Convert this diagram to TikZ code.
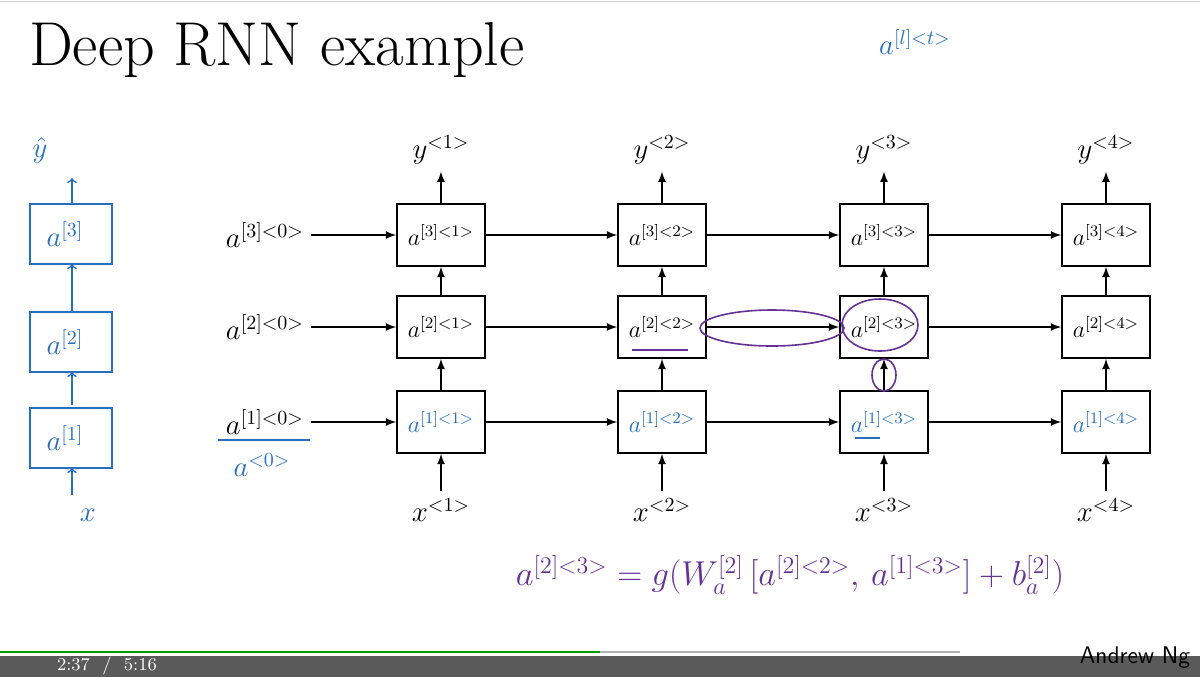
\documentclass[tikz,border=0pt]{standalone}
\usetikzlibrary{positioning}
\definecolor{pen}{RGB}{40,110,190}
\definecolor{ink}{RGB}{100,50,150}
\definecolor{bar}{RGB}{90,90,90}
\tikzset{
  cell/.style={draw, thick, minimum width=44pt, minimum height=31pt, inner sep=0pt, font=\large},
  flow/.style={->, >=latex, thick},
  hand/.style={text=pen, font=\Large},
}
\begin{document}
\begin{tikzpicture}[x=0.5pt, y=-0.5pt, font=\Large]
  \useasboundingbox (0,0) rectangle (1200,677);
  \draw[gray!40] (0,1) -- (1200,1);
  \node[anchor=west, font=\fontsize{31}{36}\selectfont] (title) at (22,50) {Deep RNN example};
  \node[hand] (hint) at (915,42) {$a^{[l]<t>}$};

  % grid of cells
  \foreach \c/\x in {1/441,2/662,3/884,4/1106}{
    \node[cell] (c3\c) at (\x,235) {$a^{[3]<\c>}$};
    \node[cell] (c2\c) at (\x,327) {$a^{[2]<\c>}$};
    \node[cell] (c1\c) at (\x,422) {};
    \node[hand, font=\large] at (c1\c) {$a^{[1]<\c>}$};
    \node (y\c) at (\x,150) {$y^{<\c>}$};
    \node (x\c) at (\x,510) {$x^{<\c>}$};
    \draw[flow] (x\c) -- (c1\c);
    \draw[flow] (c1\c) -- (c2\c);
    \draw[flow] (c2\c) -- (c3\c);
    \draw[flow] (c3\c) -- (y\c);
  }
  \foreach \l/\y in {3/235,2/327,1/422}{
    \node (s\l) at (265,\y) {$a^{[\l]<0>}$};
    \draw[flow] (s\l) -- (c\l1);
    \draw[flow] (c\l1) -- (c\l2);
    \draw[flow] (c\l2) -- (c\l3);
    \draw[flow] (c\l3) -- (c\l4);
  }
  \draw[pen, thick] (218,440) -- (310,440);
  \node[hand] (a0) at (262,465) {$a^{<0>}$};

  % annotations
  \draw[ink, thick] (772,328) ellipse (36pt and 9pt);
  \draw[ink, thick] (880,325) ellipse (19pt and 13pt);
  \draw[ink, thick] (884,375) ellipse (6pt and 8pt);
  \draw[ink, thick] (632,350) -- (688,350);
  \draw[pen, thick] (855,438) -- (880,438);
  \node[ink, font=\LARGE] (eq) at (790,575)
    {$a^{[2]<3>} = g\big(W_a^{[2]}\,[a^{[2]<2>},\, a^{[1]<3>}] + b_a^{[2]}\big)$};

  % left sketch
  \foreach \l/\y in {3/234,2/342,1/438}{
    \draw[pen, thick] (30,\y-30) rectangle (112,\y+30);
    \node[hand] (k\l) at (65,\y) {$a^{[\l]}$};
  }
  \draw[pen, thick, ->] (72,495) -- (72,468);
  \draw[pen, thick, ->] (72,405) -- (72,372);
  \draw[pen, thick, ->] (72,312) -- (72,264);
  \draw[pen, thick, ->] (72,204) -- (72,178);
  \node[hand] (ky) at (40,150) {$\hat y$};
  \node[hand] (kx) at (88,515) {$x$};

  % player bar
  \fill[bar] (0,656) rectangle (1200,677);
  \draw[green!60!black, thick] (0,652) -- (600,652);
  \draw[gray!60, thick] (600,652) -- (960,652);
  \node[white, font=\small, anchor=west] (time) at (50,666) {2:37 \ / \ 5:16};
  \node[black, font=\large\sffamily] (who) at (1135,658) {Andrew Ng};
\end{tikzpicture}
\end{document}
